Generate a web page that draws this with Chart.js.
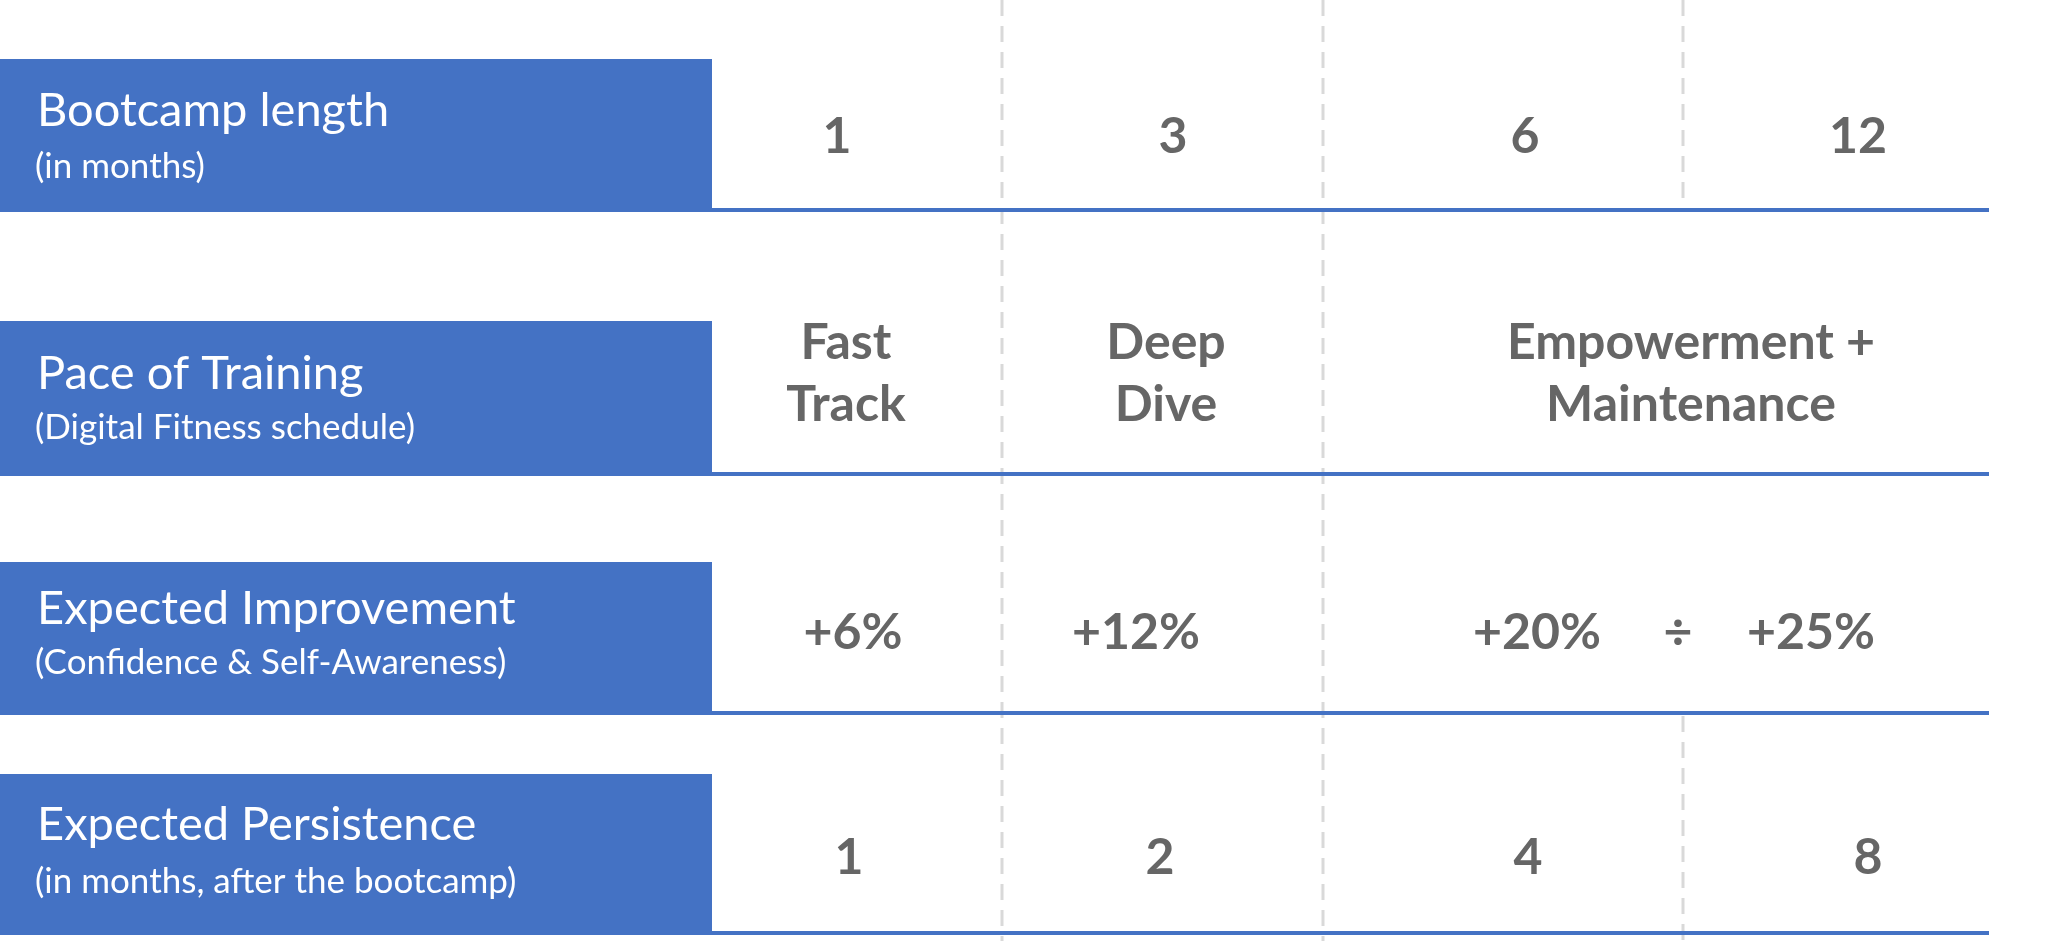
<!DOCTYPE html>
<html>
<head>
<meta charset="utf-8">
<script src="https://cdn.jsdelivr.net/npm/chart.js@4/dist/chart.umd.min.js"></script>
<style>
  html, body { margin: 0; padding: 0; background: #fff; }
  #wrap { width: 2048px; height: 941px; }
</style>
</head>
<body>
<div id="wrap"><canvas id="c"></canvas></div>
<script>
// Table content
const rowTitles = ["Bootcamp length", "Pace of Training", "Expected Improvement", "Expected Persistence"];
const rowSubtitles = ["(in months)", "(Digital Fitness schedule)", "(Confidence & Self-Awareness)", "(in months, after the bootcamp)"];
const bootcampLength = ["1", "3", "6", "12"];
const paceLabels = [["Fast", "Track"], ["Deep", "Dive"], ["Empowerment +", "Maintenance"]];
const improvementLabels = ["+6%", "+12%", "+20%", "\u00F7", "+25%"];
const persistenceLabels = ["1", "2", "4", "8"];

// Layout (pixel units of the 2048x941 page)
const boxRight = 712;
const lineEnd = 1989;
const rowTops = [59, 321, 562, 774];
const rowBottoms = [209, 473, 712, 931];
const lineYs = [210, 474, 713, 933];
const dashXs = [1002, 1323, 1683];
const blue = "#4472C4";
const grey = "#666666";

const datasets = [];
lineYs.forEach((y) => {
  datasets.push({ type: "line", data: [{ x: 0, y: y }, { x: lineEnd, y: y }], borderColor: blue, borderWidth: 4, pointRadius: 0 });
});
// dashed separators (the third one is broken across the middle rows)
const dashSegments = [
  [dashXs[0], 0, 941], [dashXs[1], 0, 941],
  [dashXs[2], 0, 209], [dashXs[2], 716, 941]
];
dashSegments.forEach((s) => {
  datasets.push({ type: "line", data: [{ x: s[0], y: s[1] }, { x: s[0], y: s[2] }], borderColor: "#d9d9d9", borderWidth: 3, borderDash: [16, 10], pointRadius: 0 });
});

const tablePlugin = {
  id: "table",
  beforeDatasetsDraw(chart) {
    const { ctx, scales: { x, y } } = chart;
    ctx.save();
    ctx.fillStyle = blue;
    rowTops.forEach((t, i) => {
      const px = x.getPixelForValue(0), py = y.getPixelForValue(t);
      ctx.fillRect(px, py, x.getPixelForValue(boxRight) - px, y.getPixelForValue(rowBottoms[i]) - py);
    });
    ctx.restore();
  },
  afterDatasetsDraw(chart) {
    const { ctx, scales: { x, y } } = chart;
    const text = (s, cx, cy, font, color, align) => {
      ctx.font = font;
      ctx.fillStyle = color;
      ctx.textAlign = align || "center";
      ctx.textBaseline = "middle";
      ctx.fillText(s, x.getPixelForValue(cx), y.getPixelForValue(cy));
    };
    ctx.save();
    const titleYs = [111, 374, 609, 825];
    const subYs = [167, 428, 663, 882];
    rowTitles.forEach((t, i) => {
      text(t, 37, titleYs[i], "47px Lato", "#ffffff", "left");
      text(rowSubtitles[i], 35, subYs[i], "35px Lato", "#ffffff", "left");
    });
    const bold = "bold 50px Lato";
    [837, 1173, 1525, 1858].forEach((cx, i) => text(bootcampLength[i], cx, 137, bold, grey));
    [846, 1166, 1691].forEach((cx, i) => {
      text(paceLabels[i][0], cx, 343, bold, grey);
      text(paceLabels[i][1], cx, 405, bold, grey);
    });
    [853, 1136, 1537, 1678, 1811].forEach((cx, i) => text(improvementLabels[i], cx, 633, bold, grey));
    [849, 1160, 1528, 1868].forEach((cx, i) => text(persistenceLabels[i], cx, 858, bold, grey));
    ctx.restore();
  }
};

new Chart(document.getElementById("c"), {
  type: "scatter",
  data: { datasets: datasets },
  options: {
    responsive: true,
    maintainAspectRatio: false,
    animation: false,
    layout: { padding: 0 },
    plugins: { legend: { display: false }, tooltip: { enabled: false } },
    scales: {
      x: { type: "linear", min: 0, max: 2048, display: false },
      y: { type: "linear", min: 0, max: 941, reverse: true, display: false }
    }
  },
  plugins: [tablePlugin]
});
</script>
</body>
</html>
